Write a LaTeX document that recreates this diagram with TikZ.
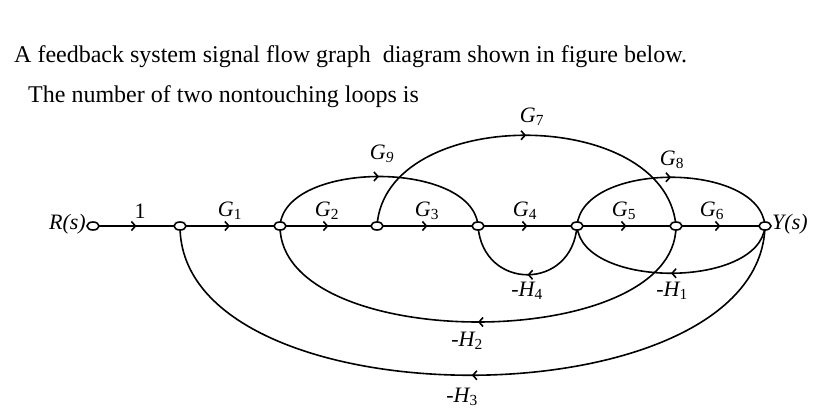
\documentclass[tikz,border=0pt]{standalone}
\usepackage{fontspec}
\setmainfont{Liberation Serif}
\usetikzlibrary{decorations.markings,arrows.meta,shapes.geometric}
\newcommand{\sbs}[1]{\textsubscript{\upshape #1}}
\begin{document}
\begin{tikzpicture}[x=1pt,y=-1pt,
  sn/.style={draw,ellipse,fill=white,line width=1.6pt,minimum width=12pt,minimum height=8pt,inner sep=0pt},
  br/.style={line width=1.6pt,postaction={decorate},decoration={markings,mark=at position 0.5 with {\arrow{Straight Barb[length=4pt,width=9pt,line width=1.6pt]}}}},
  lb/.style={font=\fontsize{22}{24}\selectfont\itshape,inner sep=0pt}]
\useasboundingbox (0,0) rectangle (820,418);
\node[anchor=base west,font=\fontsize{24}{28}\selectfont,inner sep=0pt] (t1) at (14,62) {A feedback system signal flow graph\ \ diagram shown in figure below.};
\node[anchor=base west,font=\fontsize{24}{28}\selectfont,inner sep=0pt] (t2) at (28,102) {The number of two nontouching loops is};
\coordinate (R) at (93,226);
\coordinate (A) at (180,226);
\coordinate (B) at (280,226);
\coordinate (C) at (377,226);
\coordinate (D) at (478,226);
\coordinate (E) at (577,226);
\coordinate (F) at (676,226);
\coordinate (Y) at (765,226);
\draw[br] (R) -- (A);
\draw[br] (A) -- (B);
\draw[br] (B) -- (C);
\draw[br] (C) -- (D);
\draw[br] (D) -- (E);
\draw[br] (E) -- (F);
\draw[br] (F) -- (Y);
\draw[br] (B) .. controls (285,160) and (473,160) .. (D);
\draw[br] (C) .. controls (385,105) and (665,105) .. (F);
\draw[br] (E) .. controls (582,161) and (760,161) .. (Y);
\draw[br] (E) .. controls (572,291) and (483,291) .. (D);
\draw[br] (Y) .. controls (760,289) and (582,289) .. (E);
\draw[br] (F) .. controls (676,354) and (280,354) .. (B);
\draw[br] (Y) .. controls (760,425) and (180,425) .. (A);
\foreach \p/\n in {R/nR,A/nA,B/nB,C/nC,D/nD,E/nE,F/nF,Y/nY} \node[sn] (\n) at (\p) {};
\node[lb,anchor=east] (lr) at (86,224) {R(s)};
\node[lb,anchor=west] (ly) at (772,224) {Y(s)};
\node[lb] (l1) at (140,211) {\upshape 1};
\node[lb] (g1) at (230,211) {G\sbs{1}};
\node[lb] (g2) at (327,211) {G\sbs{2}};
\node[lb] (g3) at (427,211) {G\sbs{3}};
\node[lb] (g4) at (525,211) {G\sbs{4}};
\node[lb] (g5) at (624,211) {G\sbs{5}};
\node[lb] (g6) at (712,211) {G\sbs{6}};
\node[lb] (g9) at (382,154) {G\textsubscript{9}};
\node[lb] (g7) at (532,117) {G\sbs{7}};
\node[lb] (g8) at (672,160) {G\sbs{8}};
\node[lb] (h4) at (527,291) {-H\sbs{4}};
\node[lb] (h1) at (672,291) {-H\sbs{1}};
\node[lb] (h2) at (467,341) {-H\sbs{2}};
\node[lb] (h3) at (462,397) {-H\sbs{3}};
\end{tikzpicture}
\end{document}
